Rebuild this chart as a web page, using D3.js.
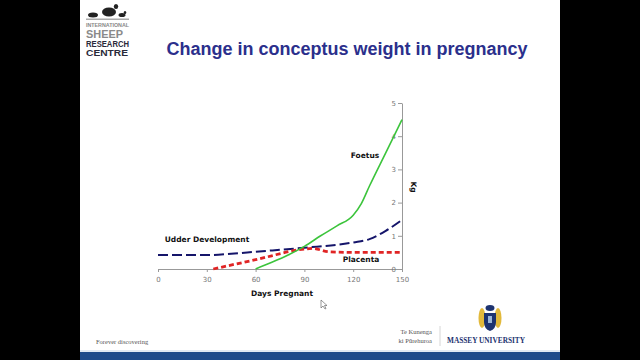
<!DOCTYPE html>
<html>
<head>
<meta charset="utf-8">
<script src="https://cdn.jsdelivr.net/npm/d3@7"></script>
<style>
  html, body { margin: 0; padding: 0; background: #000; }
  svg { display: block; }
</style>
</head>
<body>
<div id="chart"></div>
<script>
// 数据
var dayTicks = [0, 30, 60, 90, 120, 150];
var kgTicks = [0, 1, 2, 3, 4, 5];
var foetusDays = [60, 70, 80, 90, 100, 110, 120, 125, 130, 140, 150];
var foetusKg = [0, 0.2, 0.42, 0.68, 1.0, 1.3, 1.62, 1.97, 2.5, 3.5, 4.5];
var udderDays = [0, 30, 45, 60, 90, 120, 130, 140, 150];
var udderKg = [0.42, 0.42, 0.46, 0.52, 0.64, 0.8, 0.9, 1.15, 1.48];
var placentaDays = [34, 60, 90, 95, 105, 120, 150];
var placentaKg = [0, 0.28, 0.6, 0.62, 0.52, 0.5, 0.5];

var width = 640, height = 360;

var svg = d3.select('#chart').append('svg')
  .attr('width', width)
  .attr('height', height);

// 幻灯片背景
svg.append('rect').attr('x', 0).attr('y', 0).attr('width', width).attr('height', height).attr('fill', '#000');
svg.append('rect').attr('x', 80).attr('y', 0).attr('width', 480).attr('height', 360).attr('fill', '#fff');
svg.append('rect').attr('x', 80).attr('y', 352).attr('width', 480).attr('height', 8).attr('fill', '#1d4a8a');
svg.append('rect').attr('x', 80).attr('y', 350).attr('width', 480).attr('height', 2).attr('fill', '#dfe8f2');

// 标题
svg.append('text')
  .attr('x', 347).attr('y', 55)
  .attr('text-anchor', 'middle')
  .attr('style', 'font-family:"Liberation Sans",Arial,sans-serif;font-size:18px;font-weight:bold;')
  .attr('fill', '#2b2f8c')
  .text('Change in conceptus weight in pregnancy');

// 左上角标志
var logo = svg.append('g');
logo.append('rect').attr('x', 86).attr('y', 18.5).attr('width', 43).attr('height', 1.5).attr('fill', '#aaa');
logo.append('ellipse').attr('cx', 93).attr('cy', 15).attr('rx', 5).attr('ry', 2.5).attr('fill', '#222');
logo.append('ellipse').attr('cx', 109).attr('cy', 12).attr('rx', 7).attr('ry', 4.5).attr('fill', '#222');
logo.append('ellipse').attr('cx', 116).attr('cy', 6.5).attr('rx', 2.2).attr('ry', 2.5).attr('fill', '#222');
logo.append('ellipse').attr('cx', 122).attr('cy', 15).attr('rx', 3.5).attr('ry', 2).attr('fill', '#222');
logo.append('ellipse').attr('cx', 125).attr('cy', 12.5).attr('rx', 1.3).attr('ry', 1.5).attr('fill', '#222');
[[86, 26.5, 'INTERNATIONAL', 4.5, '#888', 129], [86, 37.5, 'SHEEP', 10.5, '#8a8a8a', 123],
 [86, 46.5, 'RESEARCH', 8.5, '#2a2a3a', 129], [86, 55.5, 'CENTRE', 8.5, '#2a2a3a', 128]].forEach(function(d) {
  logo.append('text')
    .attr('x', d[0]).attr('y', d[1])
    .attr('textLength', d[5] - d[0])
    .attr('lengthAdjust', 'spacingAndGlyphs')
    .attr('style', 'font-family:"Liberation Sans",Arial,sans-serif;font-weight:bold;font-size:' + d[3] + 'px;')
    .attr('fill', d[4])
    .text(d[2]);
});

// 比例尺
var x = d3.scaleLinear().domain([0, 150]).range([158, 402]);
var y = d3.scaleLinear().domain([0, 5]).range([269, 103]);

var axisStyle = 'font-family:"DejaVu Sans",sans-serif;font-size:7px;';

var xAxis = svg.append('g')
  .attr('transform', 'translate(0,' + y(0) + ')')
  .call(d3.axisBottom(x).tickValues(dayTicks).tickSize(3).tickPadding(5).tickSizeOuter(0));
xAxis.selectAll('text').attr('style', axisStyle).attr('fill', '#777');

var yAxis = svg.append('g')
  .attr('transform', 'translate(' + x(150) + ',0)')
  .call(d3.axisLeft(y).tickValues(kgTicks).tickFormat(d3.format('d')).tickSize(4).tickPadding(2).tickSizeOuter(0));
yAxis.selectAll('text').attr('style', axisStyle).attr('fill', '#777');

svg.selectAll('.domain, .tick line').attr('stroke', '#999');

// 折线
var line = d3.line()
  .x(function(d) { return x(d[0]); })
  .y(function(d) { return y(d[1]); })
  .curve(d3.curveMonotoneX);

function pairs(a, b) {
  return a.map(function(v, i) { return [v, b[i]]; });
}

svg.append('path')
  .datum(pairs(udderDays, udderKg))
  .attr('d', line)
  .attr('fill', 'none')
  .attr('stroke', '#15156a')
  .attr('stroke-width', 2)
  .attr('stroke-dasharray', '10,4');

svg.append('path')
  .datum(pairs(placentaDays, placentaKg))
  .attr('d', line)
  .attr('fill', 'none')
  .attr('stroke', '#e02424')
  .attr('stroke-width', 2.8)
  .attr('stroke-dasharray', '5,3');

svg.append('path')
  .datum(pairs(foetusDays, foetusKg))
  .attr('d', line)
  .attr('fill', 'none')
  .attr('stroke', '#3cc43c')
  .attr('stroke-width', 1.6);

// 标签
var labelStyle = 'font-family:"DejaVu Sans",sans-serif;font-size:7.5px;font-weight:bold;';
[['Foetus', 365, 158], ['Udder Development', 207, 242], ['Placenta', 361, 262], ['Days Pregnant', 282, 296]].forEach(function(d) {
  svg.append('text')
    .attr('x', d[1]).attr('y', d[2])
    .attr('text-anchor', 'middle')
    .attr('style', labelStyle)
    .attr('fill', '#111')
    .text(d[0]);
});

svg.append('text')
  .attr('transform', 'translate(411,187) rotate(90)')
  .attr('text-anchor', 'middle')
  .attr('style', labelStyle)
  .attr('fill', '#111')
  .text('Kg');

// 鼠标指针
svg.append('path')
  .attr('d', 'M321,300 L321,308 L323,306 L325,309 L326,308.5 L324.5,305.5 L327,305.5 Z')
  .attr('fill', '#fff')
  .attr('stroke', '#555')
  .attr('stroke-width', 0.6);

// 页脚
var serif = 'font-family:"Liberation Serif","DejaVu Serif",serif;';
svg.append('text')
  .attr('x', 96).attr('y', 344)
  .attr('style', serif + 'font-size:6.5px;')
  .attr('fill', '#555')
  .text('Forever discovering');

svg.append('text')
  .attr('x', 432).attr('y', 334)
  .attr('text-anchor', 'end')
  .attr('style', serif + 'font-size:6.5px;')
  .attr('fill', '#555')
  .text('Te Kunenga');
svg.append('text')
  .attr('x', 432).attr('y', 343)
  .attr('text-anchor', 'end')
  .attr('style', serif + 'font-size:6.5px;')
  .attr('fill', '#555')
  .text('ki Pūrehuroa');

svg.append('line')
  .attr('x1', 440).attr('x2', 440).attr('y1', 326).attr('y2', 346)
  .attr('stroke', '#ccc').attr('stroke-width', 0.8);

svg.append('text')
  .attr('x', 447).attr('y', 343)
  .attr('textLength', 78)
  .attr('lengthAdjust', 'spacingAndGlyphs')
  .attr('style', serif + 'font-size:8px;font-weight:bold;')
  .attr('fill', '#1d3370')
  .text('MASSEY UNIVERSITY');

// 校徽
var crest = svg.append('g');
crest.append('ellipse').attr('cx', 482).attr('cy', 318).attr('rx', 3.5).attr('ry', 10).attr('fill', '#e2b93b');
crest.append('ellipse').attr('cx', 498).attr('cy', 318).attr('rx', 3.5).attr('ry', 10).attr('fill', '#e2b93b');
crest.append('path')
  .attr('d', 'M484,313 L496,313 L496,322 Q496,329 490,331 Q484,329 484,322 Z')
  .attr('fill', '#1d3370');
crest.append('ellipse').attr('cx', 490).attr('cy', 308).attr('rx', 4.5).attr('ry', 3).attr('fill', '#1d3370');
crest.append('rect').attr('x', 488).attr('y', 316).attr('width', 4).attr('height', 7).attr('fill', '#9bb6d8');
</script>
</body>
</html>
